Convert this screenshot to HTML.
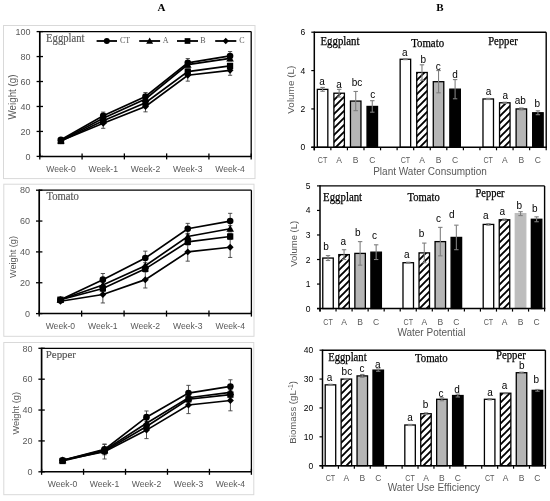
<!DOCTYPE html><html><head><meta charset="utf-8"><style>html,body{margin:0;padding:0;background:#fff;width:550px;height:501px;overflow:hidden}svg{display:block;will-change:transform;opacity:0.999}</style></head><body><svg width="550" height="501" viewBox="0 0 550 501">
<defs><pattern id="hatch" patternUnits="userSpaceOnUse" width="7" height="7"><rect width="7" height="7" fill="#fff"/><path d="M-1.75,1.75 L1.75,-1.75 M0,7 L7,0 M5.25,8.75 L8.75,5.25" stroke="#000" stroke-width="1.9"/></pattern></defs>
<rect width="550" height="501" fill="#fff"/>
<text x="161.50" y="10.80" font-family="'Liberation Serif', serif" font-size="11" fill="#000" text-anchor="middle" font-weight="bold" >A</text>
<text x="440.00" y="10.90" font-family="'Liberation Serif', serif" font-size="11" fill="#000" text-anchor="middle" font-weight="bold" >B</text>
<rect x="3.5" y="25.5" width="251.5" height="153.1" fill="#fff" stroke="#d9d9d9" stroke-width="1"/>
<line x1="39.80" y1="31.60" x2="251.20" y2="31.60" stroke="#000" stroke-width="1.3" />
<line x1="251.20" y1="31.60" x2="251.20" y2="156.40" stroke="#000" stroke-width="1.3" />
<line x1="36.60" y1="156.40" x2="43.00" y2="156.40" stroke="#000" stroke-width="1.3" />
<text x="30.60" y="159.60" font-family="'Liberation Sans', sans-serif" font-size="9" fill="#595959" text-anchor="end" font-weight="normal" >0</text>
<line x1="36.60" y1="131.44" x2="43.00" y2="131.44" stroke="#000" stroke-width="1.3" />
<text x="30.60" y="134.64" font-family="'Liberation Sans', sans-serif" font-size="9" fill="#595959" text-anchor="end" font-weight="normal" >20</text>
<line x1="36.60" y1="106.48" x2="43.00" y2="106.48" stroke="#000" stroke-width="1.3" />
<text x="30.60" y="109.68" font-family="'Liberation Sans', sans-serif" font-size="9" fill="#595959" text-anchor="end" font-weight="normal" >40</text>
<line x1="36.60" y1="81.52" x2="43.00" y2="81.52" stroke="#000" stroke-width="1.3" />
<text x="30.60" y="84.72" font-family="'Liberation Sans', sans-serif" font-size="9" fill="#595959" text-anchor="end" font-weight="normal" >60</text>
<line x1="36.60" y1="56.56" x2="43.00" y2="56.56" stroke="#000" stroke-width="1.3" />
<text x="30.60" y="59.76" font-family="'Liberation Sans', sans-serif" font-size="9" fill="#595959" text-anchor="end" font-weight="normal" >80</text>
<line x1="36.60" y1="31.60" x2="43.00" y2="31.60" stroke="#000" stroke-width="1.3" />
<text x="30.60" y="34.80" font-family="'Liberation Sans', sans-serif" font-size="9" fill="#595959" text-anchor="end" font-weight="normal" >100</text>
<line x1="39.80" y1="153.40" x2="39.80" y2="159.40" stroke="#000" stroke-width="1.3" />
<line x1="82.08" y1="153.40" x2="82.08" y2="159.40" stroke="#000" stroke-width="1.3" />
<line x1="124.36" y1="153.40" x2="124.36" y2="159.40" stroke="#000" stroke-width="1.3" />
<line x1="166.64" y1="153.40" x2="166.64" y2="159.40" stroke="#000" stroke-width="1.3" />
<line x1="208.92" y1="153.40" x2="208.92" y2="159.40" stroke="#000" stroke-width="1.3" />
<line x1="251.20" y1="153.40" x2="251.20" y2="159.40" stroke="#000" stroke-width="1.3" />
<text x="60.94" y="171.80" font-family="'Liberation Sans', sans-serif" font-size="9.6" fill="#595959" text-anchor="middle" font-weight="normal" textLength="29.5" lengthAdjust="spacingAndGlyphs" >Week-0</text>
<text x="103.22" y="171.80" font-family="'Liberation Sans', sans-serif" font-size="9.6" fill="#595959" text-anchor="middle" font-weight="normal" textLength="29.5" lengthAdjust="spacingAndGlyphs" >Week-1</text>
<text x="145.50" y="171.80" font-family="'Liberation Sans', sans-serif" font-size="9.6" fill="#595959" text-anchor="middle" font-weight="normal" textLength="29.5" lengthAdjust="spacingAndGlyphs" >Week-2</text>
<text x="187.78" y="171.80" font-family="'Liberation Sans', sans-serif" font-size="9.6" fill="#595959" text-anchor="middle" font-weight="normal" textLength="29.5" lengthAdjust="spacingAndGlyphs" >Week-3</text>
<text x="230.06" y="171.80" font-family="'Liberation Sans', sans-serif" font-size="9.6" fill="#595959" text-anchor="middle" font-weight="normal" textLength="29.5" lengthAdjust="spacingAndGlyphs" >Week-4</text>
<line x1="39.80" y1="31.00" x2="39.80" y2="157.00" stroke="#000" stroke-width="1.7" />
<line x1="39.20" y1="156.40" x2="251.80" y2="156.40" stroke="#000" stroke-width="1.5" />
<text x="0.00" y="0.00" font-family="'Liberation Sans', sans-serif" font-size="10" fill="#595959" text-anchor="middle" font-weight="normal" textLength="45" lengthAdjust="spacingAndGlyphs" transform="translate(16.2,97) rotate(-90)">Weight (g)</text>
<text x="46.10" y="41.50" font-family="'Liberation Serif', serif" font-size="11.5" fill="#595959" text-anchor="start" font-weight="normal" textLength="38.4" lengthAdjust="spacingAndGlyphs" stroke="#595959" stroke-width="0.2">Eggplant</text>
<line x1="60.94" y1="137.93" x2="60.94" y2="141.67" stroke="#404040" stroke-width="0.9" />
<line x1="58.84" y1="137.93" x2="63.04" y2="137.93" stroke="#404040" stroke-width="0.9" />
<line x1="58.84" y1="141.67" x2="63.04" y2="141.67" stroke="#404040" stroke-width="0.9" />
<line x1="103.22" y1="112.10" x2="103.22" y2="119.58" stroke="#404040" stroke-width="0.9" />
<line x1="101.12" y1="112.10" x2="105.32" y2="112.10" stroke="#404040" stroke-width="0.9" />
<line x1="101.12" y1="119.58" x2="105.32" y2="119.58" stroke="#404040" stroke-width="0.9" />
<line x1="145.50" y1="92.50" x2="145.50" y2="100.49" stroke="#404040" stroke-width="0.9" />
<line x1="143.40" y1="92.50" x2="147.60" y2="92.50" stroke="#404040" stroke-width="0.9" />
<line x1="143.40" y1="100.49" x2="147.60" y2="100.49" stroke="#404040" stroke-width="0.9" />
<line x1="187.78" y1="58.56" x2="187.78" y2="67.04" stroke="#404040" stroke-width="0.9" />
<line x1="185.68" y1="58.56" x2="189.88" y2="58.56" stroke="#404040" stroke-width="0.9" />
<line x1="185.68" y1="67.04" x2="189.88" y2="67.04" stroke="#404040" stroke-width="0.9" />
<line x1="230.06" y1="51.57" x2="230.06" y2="60.30" stroke="#404040" stroke-width="0.9" />
<line x1="227.96" y1="51.57" x2="232.16" y2="51.57" stroke="#404040" stroke-width="0.9" />
<line x1="227.96" y1="60.30" x2="232.16" y2="60.30" stroke="#404040" stroke-width="0.9" />
<line x1="60.94" y1="139.18" x2="60.94" y2="141.67" stroke="#404040" stroke-width="0.9" />
<line x1="58.84" y1="139.18" x2="63.04" y2="139.18" stroke="#404040" stroke-width="0.9" />
<line x1="58.84" y1="141.67" x2="63.04" y2="141.67" stroke="#404040" stroke-width="0.9" />
<line x1="103.22" y1="115.84" x2="103.22" y2="120.83" stroke="#404040" stroke-width="0.9" />
<line x1="101.12" y1="115.84" x2="105.32" y2="115.84" stroke="#404040" stroke-width="0.9" />
<line x1="101.12" y1="120.83" x2="105.32" y2="120.83" stroke="#404040" stroke-width="0.9" />
<line x1="145.50" y1="96.50" x2="145.50" y2="101.49" stroke="#404040" stroke-width="0.9" />
<line x1="143.40" y1="96.50" x2="147.60" y2="96.50" stroke="#404040" stroke-width="0.9" />
<line x1="143.40" y1="101.49" x2="147.60" y2="101.49" stroke="#404040" stroke-width="0.9" />
<line x1="187.78" y1="62.18" x2="187.78" y2="67.17" stroke="#404040" stroke-width="0.9" />
<line x1="185.68" y1="62.18" x2="189.88" y2="62.18" stroke="#404040" stroke-width="0.9" />
<line x1="185.68" y1="67.17" x2="189.88" y2="67.17" stroke="#404040" stroke-width="0.9" />
<line x1="230.06" y1="55.94" x2="230.06" y2="60.93" stroke="#404040" stroke-width="0.9" />
<line x1="227.96" y1="55.94" x2="232.16" y2="55.94" stroke="#404040" stroke-width="0.9" />
<line x1="227.96" y1="60.93" x2="232.16" y2="60.93" stroke="#404040" stroke-width="0.9" />
<line x1="60.94" y1="139.80" x2="60.94" y2="142.30" stroke="#404040" stroke-width="0.9" />
<line x1="58.84" y1="139.80" x2="63.04" y2="139.80" stroke="#404040" stroke-width="0.9" />
<line x1="58.84" y1="142.30" x2="63.04" y2="142.30" stroke="#404040" stroke-width="0.9" />
<line x1="103.22" y1="118.34" x2="103.22" y2="123.33" stroke="#404040" stroke-width="0.9" />
<line x1="101.12" y1="118.34" x2="105.32" y2="118.34" stroke="#404040" stroke-width="0.9" />
<line x1="101.12" y1="123.33" x2="105.32" y2="123.33" stroke="#404040" stroke-width="0.9" />
<line x1="145.50" y1="100.24" x2="145.50" y2="105.23" stroke="#404040" stroke-width="0.9" />
<line x1="143.40" y1="100.24" x2="147.60" y2="100.24" stroke="#404040" stroke-width="0.9" />
<line x1="143.40" y1="105.23" x2="147.60" y2="105.23" stroke="#404040" stroke-width="0.9" />
<line x1="187.78" y1="69.04" x2="187.78" y2="74.03" stroke="#404040" stroke-width="0.9" />
<line x1="185.68" y1="69.04" x2="189.88" y2="69.04" stroke="#404040" stroke-width="0.9" />
<line x1="185.68" y1="74.03" x2="189.88" y2="74.03" stroke="#404040" stroke-width="0.9" />
<line x1="230.06" y1="63.42" x2="230.06" y2="68.42" stroke="#404040" stroke-width="0.9" />
<line x1="227.96" y1="63.42" x2="232.16" y2="63.42" stroke="#404040" stroke-width="0.9" />
<line x1="227.96" y1="68.42" x2="232.16" y2="68.42" stroke="#404040" stroke-width="0.9" />
<line x1="60.94" y1="138.80" x2="60.94" y2="142.55" stroke="#404040" stroke-width="0.9" />
<line x1="58.84" y1="138.80" x2="63.04" y2="138.80" stroke="#404040" stroke-width="0.9" />
<line x1="58.84" y1="142.55" x2="63.04" y2="142.55" stroke="#404040" stroke-width="0.9" />
<line x1="103.22" y1="118.34" x2="103.22" y2="128.32" stroke="#404040" stroke-width="0.9" />
<line x1="101.12" y1="118.34" x2="105.32" y2="118.34" stroke="#404040" stroke-width="0.9" />
<line x1="101.12" y1="128.32" x2="105.32" y2="128.32" stroke="#404040" stroke-width="0.9" />
<line x1="145.50" y1="101.11" x2="145.50" y2="111.85" stroke="#404040" stroke-width="0.9" />
<line x1="143.40" y1="101.11" x2="147.60" y2="101.11" stroke="#404040" stroke-width="0.9" />
<line x1="143.40" y1="111.85" x2="147.60" y2="111.85" stroke="#404040" stroke-width="0.9" />
<line x1="187.78" y1="69.41" x2="187.78" y2="81.15" stroke="#404040" stroke-width="0.9" />
<line x1="185.68" y1="69.41" x2="189.88" y2="69.41" stroke="#404040" stroke-width="0.9" />
<line x1="185.68" y1="81.15" x2="189.88" y2="81.15" stroke="#404040" stroke-width="0.9" />
<line x1="230.06" y1="65.30" x2="230.06" y2="75.28" stroke="#404040" stroke-width="0.9" />
<line x1="227.96" y1="65.30" x2="232.16" y2="65.30" stroke="#404040" stroke-width="0.9" />
<line x1="227.96" y1="75.28" x2="232.16" y2="75.28" stroke="#404040" stroke-width="0.9" />
<polyline points="60.94,139.80 103.22,115.84 145.50,96.50 187.78,62.80 230.06,55.94" fill="none" stroke="#000" stroke-width="1.7"/>
<polyline points="60.94,140.43 103.22,118.34 145.50,98.99 187.78,64.67 230.06,58.43" fill="none" stroke="#000" stroke-width="1.7"/>
<polyline points="60.94,141.05 103.22,120.83 145.50,102.74 187.78,71.54 230.06,65.92" fill="none" stroke="#000" stroke-width="1.7"/>
<polyline points="60.94,140.68 103.22,123.33 145.50,106.48 187.78,75.28 230.06,70.29" fill="none" stroke="#000" stroke-width="1.7"/>
<circle cx="60.94" cy="139.80" r="3.30" fill="#000"/>
<circle cx="103.22" cy="115.84" r="3.30" fill="#000"/>
<circle cx="145.50" cy="96.50" r="3.30" fill="#000"/>
<circle cx="187.78" cy="62.80" r="3.30" fill="#000"/>
<circle cx="230.06" cy="55.94" r="3.30" fill="#000"/>
<polygon points="60.94,136.63 64.73,143.46 57.14,143.46" fill="#000"/>
<polygon points="103.22,114.54 107.01,121.37 99.42,121.37" fill="#000"/>
<polygon points="145.50,95.20 149.29,102.03 141.71,102.03" fill="#000"/>
<polygon points="187.78,60.88 191.57,67.71 183.98,67.71" fill="#000"/>
<polygon points="230.06,54.64 233.85,61.47 226.26,61.47" fill="#000"/>
<rect x="57.80" y="137.91" width="6.27" height="6.27" fill="#000"/>
<rect x="100.08" y="117.70" width="6.27" height="6.27" fill="#000"/>
<rect x="142.37" y="99.60" width="6.27" height="6.27" fill="#000"/>
<rect x="184.64" y="68.40" width="6.27" height="6.27" fill="#000"/>
<rect x="226.92" y="62.78" width="6.27" height="6.27" fill="#000"/>
<polygon points="60.94,137.21 64.41,140.68 60.94,144.14 57.47,140.68" fill="#000"/>
<polygon points="103.22,119.86 106.68,123.33 103.22,126.79 99.75,123.33" fill="#000"/>
<polygon points="145.50,103.01 148.97,106.48 145.50,109.94 142.03,106.48" fill="#000"/>
<polygon points="187.78,71.81 191.24,75.28 187.78,78.74 184.31,75.28" fill="#000"/>
<polygon points="230.06,66.82 233.52,70.29 230.06,73.75 226.59,70.29" fill="#000"/>
<line x1="96.60" y1="41.00" x2="117.00" y2="41.00" stroke="#000" stroke-width="1.8" />
<circle cx="106.80" cy="41.00" r="3.00" fill="#000"/>
<text x="120.00" y="43.30" font-family="'Liberation Serif', serif" font-size="8" fill="#595959" text-anchor="start" font-weight="normal" >CT</text>
<line x1="139.20" y1="41.00" x2="160.10" y2="41.00" stroke="#000" stroke-width="1.8" />
<polygon points="149.65,37.55 153.10,43.76 146.20,43.76" fill="#000"/>
<text x="162.70" y="43.30" font-family="'Liberation Serif', serif" font-size="8" fill="#595959" text-anchor="start" font-weight="normal" >A</text>
<line x1="177.00" y1="41.00" x2="198.00" y2="41.00" stroke="#000" stroke-width="1.8" />
<rect x="184.65" y="38.15" width="5.70" height="5.70" fill="#000"/>
<text x="200.30" y="43.30" font-family="'Liberation Serif', serif" font-size="8" fill="#595959" text-anchor="start" font-weight="normal" >B</text>
<line x1="215.20" y1="41.00" x2="236.30" y2="41.00" stroke="#000" stroke-width="1.8" />
<polygon points="225.75,37.85 228.90,41.00 225.75,44.15 222.60,41.00" fill="#000"/>
<text x="239.20" y="43.30" font-family="'Liberation Serif', serif" font-size="8" fill="#595959" text-anchor="start" font-weight="normal" >C</text>
<rect x="3.8" y="184.2" width="250.2" height="152.10000000000002" fill="#fff" stroke="#d9d9d9" stroke-width="1"/>
<line x1="39.20" y1="190.20" x2="251.40" y2="190.20" stroke="#000" stroke-width="1.3" />
<line x1="251.40" y1="190.20" x2="251.40" y2="313.60" stroke="#000" stroke-width="1.3" />
<line x1="36.00" y1="313.60" x2="42.40" y2="313.60" stroke="#000" stroke-width="1.3" />
<text x="30.00" y="316.80" font-family="'Liberation Sans', sans-serif" font-size="9" fill="#595959" text-anchor="end" font-weight="normal" >0</text>
<line x1="36.00" y1="282.75" x2="42.40" y2="282.75" stroke="#000" stroke-width="1.3" />
<text x="30.00" y="285.95" font-family="'Liberation Sans', sans-serif" font-size="9" fill="#595959" text-anchor="end" font-weight="normal" >20</text>
<line x1="36.00" y1="251.90" x2="42.40" y2="251.90" stroke="#000" stroke-width="1.3" />
<text x="30.00" y="255.10" font-family="'Liberation Sans', sans-serif" font-size="9" fill="#595959" text-anchor="end" font-weight="normal" >40</text>
<line x1="36.00" y1="221.05" x2="42.40" y2="221.05" stroke="#000" stroke-width="1.3" />
<text x="30.00" y="224.25" font-family="'Liberation Sans', sans-serif" font-size="9" fill="#595959" text-anchor="end" font-weight="normal" >60</text>
<line x1="36.00" y1="190.20" x2="42.40" y2="190.20" stroke="#000" stroke-width="1.3" />
<text x="30.00" y="193.40" font-family="'Liberation Sans', sans-serif" font-size="9" fill="#595959" text-anchor="end" font-weight="normal" >80</text>
<line x1="39.20" y1="310.60" x2="39.20" y2="316.60" stroke="#000" stroke-width="1.3" />
<line x1="81.64" y1="310.60" x2="81.64" y2="316.60" stroke="#000" stroke-width="1.3" />
<line x1="124.08" y1="310.60" x2="124.08" y2="316.60" stroke="#000" stroke-width="1.3" />
<line x1="166.52" y1="310.60" x2="166.52" y2="316.60" stroke="#000" stroke-width="1.3" />
<line x1="208.96" y1="310.60" x2="208.96" y2="316.60" stroke="#000" stroke-width="1.3" />
<line x1="251.40" y1="310.60" x2="251.40" y2="316.60" stroke="#000" stroke-width="1.3" />
<text x="60.42" y="329.00" font-family="'Liberation Sans', sans-serif" font-size="9.6" fill="#595959" text-anchor="middle" font-weight="normal" textLength="29.5" lengthAdjust="spacingAndGlyphs" >Week-0</text>
<text x="102.86" y="329.00" font-family="'Liberation Sans', sans-serif" font-size="9.6" fill="#595959" text-anchor="middle" font-weight="normal" textLength="29.5" lengthAdjust="spacingAndGlyphs" >Week-1</text>
<text x="145.30" y="329.00" font-family="'Liberation Sans', sans-serif" font-size="9.6" fill="#595959" text-anchor="middle" font-weight="normal" textLength="29.5" lengthAdjust="spacingAndGlyphs" >Week-2</text>
<text x="187.74" y="329.00" font-family="'Liberation Sans', sans-serif" font-size="9.6" fill="#595959" text-anchor="middle" font-weight="normal" textLength="29.5" lengthAdjust="spacingAndGlyphs" >Week-3</text>
<text x="230.18" y="329.00" font-family="'Liberation Sans', sans-serif" font-size="9.6" fill="#595959" text-anchor="middle" font-weight="normal" textLength="29.5" lengthAdjust="spacingAndGlyphs" >Week-4</text>
<line x1="39.20" y1="189.60" x2="39.20" y2="314.20" stroke="#000" stroke-width="1.7" />
<line x1="38.60" y1="313.60" x2="252.00" y2="313.60" stroke="#000" stroke-width="1.5" />
<text x="0.00" y="0.00" font-family="'Liberation Sans', sans-serif" font-size="9.4" fill="#595959" text-anchor="middle" font-weight="normal" textLength="42" lengthAdjust="spacingAndGlyphs" transform="translate(15.6,257) rotate(-90)">Weight (g)</text>
<text x="46.50" y="200.20" font-family="'Liberation Serif', serif" font-size="11.6" fill="#595959" text-anchor="start" font-weight="normal" textLength="32.4" lengthAdjust="spacingAndGlyphs" stroke="#595959" stroke-width="0.2">Tomato</text>
<line x1="60.42" y1="298.18" x2="60.42" y2="301.26" stroke="#404040" stroke-width="0.9" />
<line x1="58.32" y1="298.18" x2="62.52" y2="298.18" stroke="#404040" stroke-width="0.9" />
<line x1="58.32" y1="301.26" x2="62.52" y2="301.26" stroke="#404040" stroke-width="0.9" />
<line x1="102.86" y1="273.50" x2="102.86" y2="285.84" stroke="#404040" stroke-width="0.9" />
<line x1="100.76" y1="273.50" x2="104.96" y2="273.50" stroke="#404040" stroke-width="0.9" />
<line x1="100.76" y1="285.84" x2="104.96" y2="285.84" stroke="#404040" stroke-width="0.9" />
<line x1="145.30" y1="251.13" x2="145.30" y2="265.01" stroke="#404040" stroke-width="0.9" />
<line x1="143.20" y1="251.13" x2="147.40" y2="251.13" stroke="#404040" stroke-width="0.9" />
<line x1="143.20" y1="265.01" x2="147.40" y2="265.01" stroke="#404040" stroke-width="0.9" />
<line x1="187.74" y1="223.36" x2="187.74" y2="234.16" stroke="#404040" stroke-width="0.9" />
<line x1="185.64" y1="223.36" x2="189.84" y2="223.36" stroke="#404040" stroke-width="0.9" />
<line x1="185.64" y1="234.16" x2="189.84" y2="234.16" stroke="#404040" stroke-width="0.9" />
<line x1="230.18" y1="213.34" x2="230.18" y2="228.76" stroke="#404040" stroke-width="0.9" />
<line x1="228.08" y1="213.34" x2="232.28" y2="213.34" stroke="#404040" stroke-width="0.9" />
<line x1="228.08" y1="228.76" x2="232.28" y2="228.76" stroke="#404040" stroke-width="0.9" />
<line x1="60.42" y1="298.18" x2="60.42" y2="301.26" stroke="#404040" stroke-width="0.9" />
<line x1="58.32" y1="298.18" x2="62.52" y2="298.18" stroke="#404040" stroke-width="0.9" />
<line x1="58.32" y1="301.26" x2="62.52" y2="301.26" stroke="#404040" stroke-width="0.9" />
<line x1="102.86" y1="281.98" x2="102.86" y2="288.15" stroke="#404040" stroke-width="0.9" />
<line x1="100.76" y1="281.98" x2="104.96" y2="281.98" stroke="#404040" stroke-width="0.9" />
<line x1="100.76" y1="288.15" x2="104.96" y2="288.15" stroke="#404040" stroke-width="0.9" />
<line x1="145.30" y1="262.70" x2="145.30" y2="268.87" stroke="#404040" stroke-width="0.9" />
<line x1="143.20" y1="262.70" x2="147.40" y2="262.70" stroke="#404040" stroke-width="0.9" />
<line x1="143.20" y1="268.87" x2="147.40" y2="268.87" stroke="#404040" stroke-width="0.9" />
<line x1="187.74" y1="233.39" x2="187.74" y2="239.56" stroke="#404040" stroke-width="0.9" />
<line x1="185.64" y1="233.39" x2="189.84" y2="233.39" stroke="#404040" stroke-width="0.9" />
<line x1="185.64" y1="239.56" x2="189.84" y2="239.56" stroke="#404040" stroke-width="0.9" />
<line x1="230.18" y1="225.68" x2="230.18" y2="231.85" stroke="#404040" stroke-width="0.9" />
<line x1="228.08" y1="225.68" x2="232.28" y2="225.68" stroke="#404040" stroke-width="0.9" />
<line x1="228.08" y1="231.85" x2="232.28" y2="231.85" stroke="#404040" stroke-width="0.9" />
<line x1="60.42" y1="298.18" x2="60.42" y2="301.26" stroke="#404040" stroke-width="0.9" />
<line x1="58.32" y1="298.18" x2="62.52" y2="298.18" stroke="#404040" stroke-width="0.9" />
<line x1="58.32" y1="301.26" x2="62.52" y2="301.26" stroke="#404040" stroke-width="0.9" />
<line x1="102.86" y1="285.37" x2="102.86" y2="291.54" stroke="#404040" stroke-width="0.9" />
<line x1="100.76" y1="285.37" x2="104.96" y2="285.37" stroke="#404040" stroke-width="0.9" />
<line x1="100.76" y1="291.54" x2="104.96" y2="291.54" stroke="#404040" stroke-width="0.9" />
<line x1="145.30" y1="265.78" x2="145.30" y2="271.95" stroke="#404040" stroke-width="0.9" />
<line x1="143.20" y1="265.78" x2="147.40" y2="265.78" stroke="#404040" stroke-width="0.9" />
<line x1="143.20" y1="271.95" x2="147.40" y2="271.95" stroke="#404040" stroke-width="0.9" />
<line x1="187.74" y1="238.79" x2="187.74" y2="244.96" stroke="#404040" stroke-width="0.9" />
<line x1="185.64" y1="238.79" x2="189.84" y2="238.79" stroke="#404040" stroke-width="0.9" />
<line x1="185.64" y1="244.96" x2="189.84" y2="244.96" stroke="#404040" stroke-width="0.9" />
<line x1="230.18" y1="233.39" x2="230.18" y2="239.56" stroke="#404040" stroke-width="0.9" />
<line x1="228.08" y1="233.39" x2="232.28" y2="233.39" stroke="#404040" stroke-width="0.9" />
<line x1="228.08" y1="239.56" x2="232.28" y2="239.56" stroke="#404040" stroke-width="0.9" />
<line x1="60.42" y1="299.72" x2="60.42" y2="302.80" stroke="#404040" stroke-width="0.9" />
<line x1="58.32" y1="299.72" x2="62.52" y2="299.72" stroke="#404040" stroke-width="0.9" />
<line x1="58.32" y1="302.80" x2="62.52" y2="302.80" stroke="#404040" stroke-width="0.9" />
<line x1="102.86" y1="285.99" x2="102.86" y2="302.96" stroke="#404040" stroke-width="0.9" />
<line x1="100.76" y1="285.99" x2="104.96" y2="285.99" stroke="#404040" stroke-width="0.9" />
<line x1="100.76" y1="302.96" x2="104.96" y2="302.96" stroke="#404040" stroke-width="0.9" />
<line x1="145.30" y1="271.34" x2="145.30" y2="287.99" stroke="#404040" stroke-width="0.9" />
<line x1="143.20" y1="271.34" x2="147.40" y2="271.34" stroke="#404040" stroke-width="0.9" />
<line x1="143.20" y1="287.99" x2="147.40" y2="287.99" stroke="#404040" stroke-width="0.9" />
<line x1="187.74" y1="242.65" x2="187.74" y2="261.16" stroke="#404040" stroke-width="0.9" />
<line x1="185.64" y1="242.65" x2="189.84" y2="242.65" stroke="#404040" stroke-width="0.9" />
<line x1="185.64" y1="261.16" x2="189.84" y2="261.16" stroke="#404040" stroke-width="0.9" />
<line x1="230.18" y1="237.09" x2="230.18" y2="257.45" stroke="#404040" stroke-width="0.9" />
<line x1="228.08" y1="237.09" x2="232.28" y2="237.09" stroke="#404040" stroke-width="0.9" />
<line x1="228.08" y1="257.45" x2="232.28" y2="257.45" stroke="#404040" stroke-width="0.9" />
<polyline points="60.42,299.72 102.86,279.67 145.30,258.07 187.74,228.76 230.18,221.05" fill="none" stroke="#000" stroke-width="1.7"/>
<polyline points="60.42,299.72 102.86,285.06 145.30,265.78 187.74,236.47 230.18,228.76" fill="none" stroke="#000" stroke-width="1.7"/>
<polyline points="60.42,299.72 102.86,288.46 145.30,268.87 187.74,241.87 230.18,236.47" fill="none" stroke="#000" stroke-width="1.7"/>
<polyline points="60.42,301.26 102.86,294.47 145.30,279.67 187.74,251.90 230.18,247.27" fill="none" stroke="#000" stroke-width="1.7"/>
<circle cx="60.42" cy="299.72" r="3.30" fill="#000"/>
<circle cx="102.86" cy="279.67" r="3.30" fill="#000"/>
<circle cx="145.30" cy="258.07" r="3.30" fill="#000"/>
<circle cx="187.74" cy="228.76" r="3.30" fill="#000"/>
<circle cx="230.18" cy="221.05" r="3.30" fill="#000"/>
<polygon points="60.42,295.92 64.22,302.75 56.62,302.75" fill="#000"/>
<polygon points="102.86,281.27 106.66,288.10 99.06,288.10" fill="#000"/>
<polygon points="145.30,261.99 149.09,268.82 141.51,268.82" fill="#000"/>
<polygon points="187.74,232.68 191.53,239.51 183.95,239.51" fill="#000"/>
<polygon points="230.18,224.97 233.97,231.80 226.39,231.80" fill="#000"/>
<rect x="57.29" y="296.58" width="6.27" height="6.27" fill="#000"/>
<rect x="99.72" y="285.32" width="6.27" height="6.27" fill="#000"/>
<rect x="142.17" y="265.73" width="6.27" height="6.27" fill="#000"/>
<rect x="184.61" y="238.74" width="6.27" height="6.27" fill="#000"/>
<rect x="227.05" y="233.34" width="6.27" height="6.27" fill="#000"/>
<polygon points="60.42,297.80 63.89,301.26 60.42,304.72 56.95,301.26" fill="#000"/>
<polygon points="102.86,291.01 106.33,294.47 102.86,297.94 99.39,294.47" fill="#000"/>
<polygon points="145.30,276.20 148.77,279.67 145.30,283.13 141.84,279.67" fill="#000"/>
<polygon points="187.74,248.44 191.21,251.90 187.74,255.37 184.28,251.90" fill="#000"/>
<polygon points="230.18,243.81 233.65,247.27 230.18,250.74 226.72,247.27" fill="#000"/>
<rect x="3.8" y="342.5" width="250.0" height="152.2" fill="#fff" stroke="#d9d9d9" stroke-width="1"/>
<line x1="41.60" y1="348.30" x2="251.40" y2="348.30" stroke="#000" stroke-width="1.3" />
<line x1="251.40" y1="348.30" x2="251.40" y2="471.80" stroke="#000" stroke-width="1.3" />
<line x1="38.40" y1="471.80" x2="44.80" y2="471.80" stroke="#000" stroke-width="1.3" />
<text x="32.40" y="475.00" font-family="'Liberation Sans', sans-serif" font-size="9" fill="#595959" text-anchor="end" font-weight="normal" >0</text>
<line x1="38.40" y1="440.93" x2="44.80" y2="440.93" stroke="#000" stroke-width="1.3" />
<text x="32.40" y="444.12" font-family="'Liberation Sans', sans-serif" font-size="9" fill="#595959" text-anchor="end" font-weight="normal" >20</text>
<line x1="38.40" y1="410.05" x2="44.80" y2="410.05" stroke="#000" stroke-width="1.3" />
<text x="32.40" y="413.25" font-family="'Liberation Sans', sans-serif" font-size="9" fill="#595959" text-anchor="end" font-weight="normal" >40</text>
<line x1="38.40" y1="379.18" x2="44.80" y2="379.18" stroke="#000" stroke-width="1.3" />
<text x="32.40" y="382.38" font-family="'Liberation Sans', sans-serif" font-size="9" fill="#595959" text-anchor="end" font-weight="normal" >60</text>
<line x1="38.40" y1="348.30" x2="44.80" y2="348.30" stroke="#000" stroke-width="1.3" />
<text x="32.40" y="351.50" font-family="'Liberation Sans', sans-serif" font-size="9" fill="#595959" text-anchor="end" font-weight="normal" >80</text>
<line x1="41.60" y1="468.80" x2="41.60" y2="474.80" stroke="#000" stroke-width="1.3" />
<line x1="83.56" y1="468.80" x2="83.56" y2="474.80" stroke="#000" stroke-width="1.3" />
<line x1="125.52" y1="468.80" x2="125.52" y2="474.80" stroke="#000" stroke-width="1.3" />
<line x1="167.48" y1="468.80" x2="167.48" y2="474.80" stroke="#000" stroke-width="1.3" />
<line x1="209.44" y1="468.80" x2="209.44" y2="474.80" stroke="#000" stroke-width="1.3" />
<line x1="251.40" y1="468.80" x2="251.40" y2="474.80" stroke="#000" stroke-width="1.3" />
<text x="62.58" y="487.20" font-family="'Liberation Sans', sans-serif" font-size="9.6" fill="#595959" text-anchor="middle" font-weight="normal" textLength="29.5" lengthAdjust="spacingAndGlyphs" >Week-0</text>
<text x="104.54" y="487.20" font-family="'Liberation Sans', sans-serif" font-size="9.6" fill="#595959" text-anchor="middle" font-weight="normal" textLength="29.5" lengthAdjust="spacingAndGlyphs" >Week-1</text>
<text x="146.50" y="487.20" font-family="'Liberation Sans', sans-serif" font-size="9.6" fill="#595959" text-anchor="middle" font-weight="normal" textLength="29.5" lengthAdjust="spacingAndGlyphs" >Week-2</text>
<text x="188.46" y="487.20" font-family="'Liberation Sans', sans-serif" font-size="9.6" fill="#595959" text-anchor="middle" font-weight="normal" textLength="29.5" lengthAdjust="spacingAndGlyphs" >Week-3</text>
<text x="230.42" y="487.20" font-family="'Liberation Sans', sans-serif" font-size="9.6" fill="#595959" text-anchor="middle" font-weight="normal" textLength="29.5" lengthAdjust="spacingAndGlyphs" >Week-4</text>
<line x1="41.60" y1="347.70" x2="41.60" y2="472.40" stroke="#000" stroke-width="1.7" />
<line x1="41.00" y1="471.80" x2="252.00" y2="471.80" stroke="#000" stroke-width="1.5" />
<text x="0.00" y="0.00" font-family="'Liberation Sans', sans-serif" font-size="9.4" fill="#595959" text-anchor="middle" font-weight="normal" textLength="42.6" lengthAdjust="spacingAndGlyphs" transform="translate(19,413.2) rotate(-90)">Weight (g)</text>
<text x="45.80" y="357.80" font-family="'Liberation Serif', serif" font-size="11.2" fill="#595959" text-anchor="start" font-weight="normal" textLength="30.2" lengthAdjust="spacingAndGlyphs" stroke="#595959" stroke-width="0.2">Pepper</text>
<line x1="62.58" y1="458.68" x2="62.58" y2="461.77" stroke="#404040" stroke-width="0.9" />
<line x1="60.48" y1="458.68" x2="64.68" y2="458.68" stroke="#404040" stroke-width="0.9" />
<line x1="60.48" y1="461.77" x2="64.68" y2="461.77" stroke="#404040" stroke-width="0.9" />
<line x1="104.54" y1="444.01" x2="104.54" y2="454.82" stroke="#404040" stroke-width="0.9" />
<line x1="102.44" y1="444.01" x2="106.64" y2="444.01" stroke="#404040" stroke-width="0.9" />
<line x1="102.44" y1="454.82" x2="106.64" y2="454.82" stroke="#404040" stroke-width="0.9" />
<line x1="146.50" y1="410.98" x2="146.50" y2="423.33" stroke="#404040" stroke-width="0.9" />
<line x1="144.40" y1="410.98" x2="148.60" y2="410.98" stroke="#404040" stroke-width="0.9" />
<line x1="144.40" y1="423.33" x2="148.60" y2="423.33" stroke="#404040" stroke-width="0.9" />
<line x1="188.46" y1="385.35" x2="188.46" y2="400.79" stroke="#404040" stroke-width="0.9" />
<line x1="186.36" y1="385.35" x2="190.56" y2="385.35" stroke="#404040" stroke-width="0.9" />
<line x1="186.36" y1="400.79" x2="190.56" y2="400.79" stroke="#404040" stroke-width="0.9" />
<line x1="230.42" y1="379.79" x2="230.42" y2="393.07" stroke="#404040" stroke-width="0.9" />
<line x1="228.32" y1="379.79" x2="232.52" y2="379.79" stroke="#404040" stroke-width="0.9" />
<line x1="228.32" y1="393.07" x2="232.52" y2="393.07" stroke="#404040" stroke-width="0.9" />
<line x1="62.58" y1="458.68" x2="62.58" y2="461.77" stroke="#404040" stroke-width="0.9" />
<line x1="60.48" y1="458.68" x2="64.68" y2="458.68" stroke="#404040" stroke-width="0.9" />
<line x1="60.48" y1="461.77" x2="64.68" y2="461.77" stroke="#404040" stroke-width="0.9" />
<line x1="104.54" y1="447.10" x2="104.54" y2="453.28" stroke="#404040" stroke-width="0.9" />
<line x1="102.44" y1="447.10" x2="106.64" y2="447.10" stroke="#404040" stroke-width="0.9" />
<line x1="102.44" y1="453.28" x2="106.64" y2="453.28" stroke="#404040" stroke-width="0.9" />
<line x1="146.50" y1="420.08" x2="146.50" y2="426.26" stroke="#404040" stroke-width="0.9" />
<line x1="144.40" y1="420.08" x2="148.60" y2="420.08" stroke="#404040" stroke-width="0.9" />
<line x1="144.40" y1="426.26" x2="148.60" y2="426.26" stroke="#404040" stroke-width="0.9" />
<line x1="188.46" y1="394.61" x2="188.46" y2="400.79" stroke="#404040" stroke-width="0.9" />
<line x1="186.36" y1="394.61" x2="190.56" y2="394.61" stroke="#404040" stroke-width="0.9" />
<line x1="186.36" y1="400.79" x2="190.56" y2="400.79" stroke="#404040" stroke-width="0.9" />
<line x1="230.42" y1="389.21" x2="230.42" y2="395.38" stroke="#404040" stroke-width="0.9" />
<line x1="228.32" y1="389.21" x2="232.52" y2="389.21" stroke="#404040" stroke-width="0.9" />
<line x1="228.32" y1="395.38" x2="232.52" y2="395.38" stroke="#404040" stroke-width="0.9" />
<line x1="62.58" y1="459.45" x2="62.58" y2="462.54" stroke="#404040" stroke-width="0.9" />
<line x1="60.48" y1="459.45" x2="64.68" y2="459.45" stroke="#404040" stroke-width="0.9" />
<line x1="60.48" y1="462.54" x2="64.68" y2="462.54" stroke="#404040" stroke-width="0.9" />
<line x1="104.54" y1="447.87" x2="104.54" y2="454.05" stroke="#404040" stroke-width="0.9" />
<line x1="102.44" y1="447.87" x2="106.64" y2="447.87" stroke="#404040" stroke-width="0.9" />
<line x1="102.44" y1="454.05" x2="106.64" y2="454.05" stroke="#404040" stroke-width="0.9" />
<line x1="146.50" y1="423.48" x2="146.50" y2="429.66" stroke="#404040" stroke-width="0.9" />
<line x1="144.40" y1="423.48" x2="148.60" y2="423.48" stroke="#404040" stroke-width="0.9" />
<line x1="144.40" y1="429.66" x2="148.60" y2="429.66" stroke="#404040" stroke-width="0.9" />
<line x1="188.46" y1="396.16" x2="188.46" y2="402.33" stroke="#404040" stroke-width="0.9" />
<line x1="186.36" y1="396.16" x2="190.56" y2="396.16" stroke="#404040" stroke-width="0.9" />
<line x1="186.36" y1="402.33" x2="190.56" y2="402.33" stroke="#404040" stroke-width="0.9" />
<line x1="230.42" y1="391.53" x2="230.42" y2="397.70" stroke="#404040" stroke-width="0.9" />
<line x1="228.32" y1="391.53" x2="232.52" y2="391.53" stroke="#404040" stroke-width="0.9" />
<line x1="228.32" y1="397.70" x2="232.52" y2="397.70" stroke="#404040" stroke-width="0.9" />
<line x1="62.58" y1="458.68" x2="62.58" y2="461.77" stroke="#404040" stroke-width="0.9" />
<line x1="60.48" y1="458.68" x2="64.68" y2="458.68" stroke="#404040" stroke-width="0.9" />
<line x1="60.48" y1="461.77" x2="64.68" y2="461.77" stroke="#404040" stroke-width="0.9" />
<line x1="104.54" y1="444.48" x2="104.54" y2="458.99" stroke="#404040" stroke-width="0.9" />
<line x1="102.44" y1="444.48" x2="106.64" y2="444.48" stroke="#404040" stroke-width="0.9" />
<line x1="102.44" y1="458.99" x2="106.64" y2="458.99" stroke="#404040" stroke-width="0.9" />
<line x1="146.50" y1="421.63" x2="146.50" y2="438.61" stroke="#404040" stroke-width="0.9" />
<line x1="144.40" y1="421.63" x2="148.60" y2="421.63" stroke="#404040" stroke-width="0.9" />
<line x1="144.40" y1="438.61" x2="148.60" y2="438.61" stroke="#404040" stroke-width="0.9" />
<line x1="188.46" y1="396.31" x2="188.46" y2="413.60" stroke="#404040" stroke-width="0.9" />
<line x1="186.36" y1="396.31" x2="190.56" y2="396.31" stroke="#404040" stroke-width="0.9" />
<line x1="186.36" y1="413.60" x2="190.56" y2="413.60" stroke="#404040" stroke-width="0.9" />
<line x1="230.42" y1="390.14" x2="230.42" y2="410.82" stroke="#404040" stroke-width="0.9" />
<line x1="228.32" y1="390.14" x2="232.52" y2="390.14" stroke="#404040" stroke-width="0.9" />
<line x1="228.32" y1="410.82" x2="232.52" y2="410.82" stroke="#404040" stroke-width="0.9" />
<polyline points="62.58,460.22 104.54,449.42 146.50,417.15 188.46,393.07 230.42,386.43" fill="none" stroke="#000" stroke-width="1.7"/>
<polyline points="62.58,460.22 104.54,450.19 146.50,423.17 188.46,397.70 230.42,392.30" fill="none" stroke="#000" stroke-width="1.7"/>
<polyline points="62.58,460.99 104.54,450.96 146.50,426.57 188.46,399.24 230.42,394.61" fill="none" stroke="#000" stroke-width="1.7"/>
<polyline points="62.58,460.22 104.54,451.73 146.50,430.12 188.46,404.96 230.42,400.48" fill="none" stroke="#000" stroke-width="1.7"/>
<circle cx="62.58" cy="460.22" r="3.30" fill="#000"/>
<circle cx="104.54" cy="449.42" r="3.30" fill="#000"/>
<circle cx="146.50" cy="417.15" r="3.30" fill="#000"/>
<circle cx="188.46" cy="393.07" r="3.30" fill="#000"/>
<circle cx="230.42" cy="386.43" r="3.30" fill="#000"/>
<polygon points="62.58,456.43 66.38,463.26 58.78,463.26" fill="#000"/>
<polygon points="104.54,446.39 108.33,453.22 100.74,453.22" fill="#000"/>
<polygon points="146.50,419.38 150.29,426.21 142.71,426.21" fill="#000"/>
<polygon points="188.46,393.91 192.25,400.74 184.67,400.74" fill="#000"/>
<polygon points="230.42,388.50 234.21,395.33 226.62,395.33" fill="#000"/>
<rect x="59.45" y="457.86" width="6.27" height="6.27" fill="#000"/>
<rect x="101.40" y="447.82" width="6.27" height="6.27" fill="#000"/>
<rect x="143.37" y="423.43" width="6.27" height="6.27" fill="#000"/>
<rect x="185.33" y="396.11" width="6.27" height="6.27" fill="#000"/>
<rect x="227.28" y="391.48" width="6.27" height="6.27" fill="#000"/>
<polygon points="62.58,456.76 66.05,460.22 62.58,463.69 59.11,460.22" fill="#000"/>
<polygon points="104.54,448.27 108.00,451.73 104.54,455.20 101.07,451.73" fill="#000"/>
<polygon points="146.50,426.65 149.97,430.12 146.50,433.58 143.03,430.12" fill="#000"/>
<polygon points="188.46,401.49 191.93,404.96 188.46,408.42 185.00,404.96" fill="#000"/>
<polygon points="230.42,397.01 233.88,400.48 230.42,403.94 226.95,400.48" fill="#000"/>
<line x1="314.30" y1="32.20" x2="546.20" y2="32.20" stroke="#000" stroke-width="1.4" />
<line x1="546.20" y1="32.20" x2="546.20" y2="147.30" stroke="#000" stroke-width="1.4" />
<line x1="311.30" y1="147.30" x2="314.30" y2="147.30" stroke="#000" stroke-width="1.2" />
<text x="305.20" y="150.30" font-family="'Liberation Sans', sans-serif" font-size="8.5" fill="#000" text-anchor="end" font-weight="normal" >0</text>
<line x1="311.30" y1="108.93" x2="314.30" y2="108.93" stroke="#000" stroke-width="1.2" />
<text x="305.20" y="111.93" font-family="'Liberation Sans', sans-serif" font-size="8.5" fill="#000" text-anchor="end" font-weight="normal" >2</text>
<line x1="311.30" y1="70.57" x2="314.30" y2="70.57" stroke="#000" stroke-width="1.2" />
<text x="305.20" y="73.57" font-family="'Liberation Sans', sans-serif" font-size="8.5" fill="#000" text-anchor="end" font-weight="normal" >4</text>
<line x1="311.30" y1="32.20" x2="314.30" y2="32.20" stroke="#000" stroke-width="1.2" />
<text x="305.20" y="35.20" font-family="'Liberation Sans', sans-serif" font-size="8.5" fill="#000" text-anchor="end" font-weight="normal" >6</text>
<line x1="314.30" y1="147.30" x2="314.30" y2="150.30" stroke="#000" stroke-width="1.2" />
<line x1="330.86" y1="147.30" x2="330.86" y2="150.30" stroke="#000" stroke-width="1.2" />
<line x1="347.43" y1="147.30" x2="347.43" y2="150.30" stroke="#000" stroke-width="1.2" />
<line x1="363.99" y1="147.30" x2="363.99" y2="150.30" stroke="#000" stroke-width="1.2" />
<line x1="380.56" y1="147.30" x2="380.56" y2="150.30" stroke="#000" stroke-width="1.2" />
<line x1="397.12" y1="147.30" x2="397.12" y2="150.30" stroke="#000" stroke-width="1.2" />
<line x1="413.69" y1="147.30" x2="413.69" y2="150.30" stroke="#000" stroke-width="1.2" />
<line x1="430.25" y1="147.30" x2="430.25" y2="150.30" stroke="#000" stroke-width="1.2" />
<line x1="446.81" y1="147.30" x2="446.81" y2="150.30" stroke="#000" stroke-width="1.2" />
<line x1="463.38" y1="147.30" x2="463.38" y2="150.30" stroke="#000" stroke-width="1.2" />
<line x1="479.94" y1="147.30" x2="479.94" y2="150.30" stroke="#000" stroke-width="1.2" />
<line x1="496.51" y1="147.30" x2="496.51" y2="150.30" stroke="#000" stroke-width="1.2" />
<line x1="513.07" y1="147.30" x2="513.07" y2="150.30" stroke="#000" stroke-width="1.2" />
<line x1="529.64" y1="147.30" x2="529.64" y2="150.30" stroke="#000" stroke-width="1.2" />
<line x1="546.20" y1="147.30" x2="546.20" y2="150.30" stroke="#000" stroke-width="1.2" />
<rect x="317.33" y="89.37" width="10.50" height="57.93" fill="#fff" stroke="#000" stroke-width="1.3"/>
<line x1="322.58" y1="87.45" x2="322.58" y2="91.28" stroke="#7f7f7f" stroke-width="1.1" />
<line x1="320.38" y1="87.45" x2="324.78" y2="87.45" stroke="#7f7f7f" stroke-width="1.1" />
<line x1="320.38" y1="91.28" x2="324.78" y2="91.28" stroke="#7f7f7f" stroke-width="1.1" />
<text x="322.10" y="85.10" font-family="'Liberation Sans', sans-serif" font-size="10" fill="#000" text-anchor="middle" font-weight="normal" >a</text>
<text x="322.58" y="162.60" font-family="'Liberation Sans', sans-serif" font-size="8.5" fill="#595959" text-anchor="middle" font-weight="normal" textLength="9.5" lengthAdjust="spacingAndGlyphs" >CT</text>
<rect x="333.90" y="93.20" width="10.50" height="54.10" fill="url(#hatch)" stroke="#000" stroke-width="1.3"/>
<line x1="339.15" y1="89.37" x2="339.15" y2="97.04" stroke="#7f7f7f" stroke-width="1.1" />
<line x1="336.95" y1="89.37" x2="341.35" y2="89.37" stroke="#7f7f7f" stroke-width="1.1" />
<line x1="336.95" y1="97.04" x2="341.35" y2="97.04" stroke="#7f7f7f" stroke-width="1.1" />
<text x="339.00" y="87.80" font-family="'Liberation Sans', sans-serif" font-size="10" fill="#000" text-anchor="middle" font-weight="normal" >a</text>
<text x="339.15" y="162.60" font-family="'Liberation Sans', sans-serif" font-size="8.5" fill="#595959" text-anchor="middle" font-weight="normal" >A</text>
<rect x="350.46" y="101.07" width="10.50" height="46.23" fill="#b5b5b5" stroke="#000" stroke-width="1.3"/>
<line x1="355.71" y1="91.48" x2="355.71" y2="110.66" stroke="#7f7f7f" stroke-width="1.1" />
<line x1="353.51" y1="91.48" x2="357.91" y2="91.48" stroke="#7f7f7f" stroke-width="1.1" />
<line x1="353.51" y1="110.66" x2="357.91" y2="110.66" stroke="#7f7f7f" stroke-width="1.1" />
<text x="357.00" y="85.80" font-family="'Liberation Sans', sans-serif" font-size="10" fill="#000" text-anchor="middle" font-weight="normal" >bc</text>
<text x="355.71" y="162.60" font-family="'Liberation Sans', sans-serif" font-size="8.5" fill="#595959" text-anchor="middle" font-weight="normal" >B</text>
<rect x="367.03" y="106.44" width="10.50" height="40.86" fill="#000" stroke="#000" stroke-width="1.3"/>
<line x1="372.28" y1="100.68" x2="372.28" y2="112.19" stroke="#7f7f7f" stroke-width="1.1" />
<line x1="370.08" y1="100.68" x2="374.48" y2="100.68" stroke="#7f7f7f" stroke-width="1.1" />
<line x1="370.08" y1="112.19" x2="374.48" y2="112.19" stroke="#7f7f7f" stroke-width="1.1" />
<text x="372.80" y="97.50" font-family="'Liberation Sans', sans-serif" font-size="10" fill="#000" text-anchor="middle" font-weight="normal" >c</text>
<text x="372.28" y="162.60" font-family="'Liberation Sans', sans-serif" font-size="8.5" fill="#595959" text-anchor="middle" font-weight="normal" >C</text>
<rect x="400.15" y="59.25" width="10.50" height="88.05" fill="#fff" stroke="#000" stroke-width="1.3"/>
<line x1="405.40" y1="58.86" x2="405.40" y2="59.63" stroke="#7f7f7f" stroke-width="1.1" />
<line x1="403.20" y1="58.86" x2="407.60" y2="58.86" stroke="#7f7f7f" stroke-width="1.1" />
<line x1="403.20" y1="59.63" x2="407.60" y2="59.63" stroke="#7f7f7f" stroke-width="1.1" />
<text x="404.90" y="55.80" font-family="'Liberation Sans', sans-serif" font-size="10" fill="#000" text-anchor="middle" font-weight="normal" >a</text>
<text x="405.40" y="162.60" font-family="'Liberation Sans', sans-serif" font-size="8.5" fill="#595959" text-anchor="middle" font-weight="normal" textLength="9.5" lengthAdjust="spacingAndGlyphs" >CT</text>
<rect x="416.72" y="72.49" width="10.50" height="74.81" fill="url(#hatch)" stroke="#000" stroke-width="1.3"/>
<line x1="421.97" y1="64.81" x2="421.97" y2="80.16" stroke="#7f7f7f" stroke-width="1.1" />
<line x1="419.77" y1="64.81" x2="424.17" y2="64.81" stroke="#7f7f7f" stroke-width="1.1" />
<line x1="419.77" y1="80.16" x2="424.17" y2="80.16" stroke="#7f7f7f" stroke-width="1.1" />
<text x="423.20" y="62.70" font-family="'Liberation Sans', sans-serif" font-size="10" fill="#000" text-anchor="middle" font-weight="normal" >b</text>
<text x="421.97" y="162.60" font-family="'Liberation Sans', sans-serif" font-size="8.5" fill="#595959" text-anchor="middle" font-weight="normal" >A</text>
<rect x="433.28" y="81.69" width="10.50" height="65.61" fill="#b5b5b5" stroke="#000" stroke-width="1.3"/>
<line x1="438.53" y1="70.57" x2="438.53" y2="92.82" stroke="#7f7f7f" stroke-width="1.1" />
<line x1="436.33" y1="70.57" x2="440.73" y2="70.57" stroke="#7f7f7f" stroke-width="1.1" />
<line x1="436.33" y1="92.82" x2="440.73" y2="92.82" stroke="#7f7f7f" stroke-width="1.1" />
<text x="438.30" y="69.70" font-family="'Liberation Sans', sans-serif" font-size="10" fill="#000" text-anchor="middle" font-weight="normal" >c</text>
<text x="438.53" y="162.60" font-family="'Liberation Sans', sans-serif" font-size="8.5" fill="#595959" text-anchor="middle" font-weight="normal" >B</text>
<rect x="449.85" y="89.17" width="10.50" height="58.13" fill="#000" stroke="#000" stroke-width="1.3"/>
<line x1="455.10" y1="79.58" x2="455.10" y2="98.77" stroke="#7f7f7f" stroke-width="1.1" />
<line x1="452.90" y1="79.58" x2="457.30" y2="79.58" stroke="#7f7f7f" stroke-width="1.1" />
<line x1="452.90" y1="98.77" x2="457.30" y2="98.77" stroke="#7f7f7f" stroke-width="1.1" />
<text x="455.10" y="77.60" font-family="'Liberation Sans', sans-serif" font-size="10" fill="#000" text-anchor="middle" font-weight="normal" >d</text>
<text x="455.10" y="162.60" font-family="'Liberation Sans', sans-serif" font-size="8.5" fill="#595959" text-anchor="middle" font-weight="normal" >C</text>
<rect x="482.98" y="98.96" width="10.50" height="48.34" fill="#fff" stroke="#000" stroke-width="1.3"/>
<line x1="488.23" y1="98.38" x2="488.23" y2="99.53" stroke="#7f7f7f" stroke-width="1.1" />
<line x1="486.03" y1="98.38" x2="490.43" y2="98.38" stroke="#7f7f7f" stroke-width="1.1" />
<line x1="486.03" y1="99.53" x2="490.43" y2="99.53" stroke="#7f7f7f" stroke-width="1.1" />
<text x="488.50" y="94.50" font-family="'Liberation Sans', sans-serif" font-size="10" fill="#000" text-anchor="middle" font-weight="normal" >a</text>
<text x="488.23" y="162.60" font-family="'Liberation Sans', sans-serif" font-size="8.5" fill="#595959" text-anchor="middle" font-weight="normal" textLength="9.5" lengthAdjust="spacingAndGlyphs" >CT</text>
<rect x="499.54" y="102.79" width="10.50" height="44.51" fill="url(#hatch)" stroke="#000" stroke-width="1.3"/>
<line x1="504.79" y1="102.22" x2="504.79" y2="103.37" stroke="#7f7f7f" stroke-width="1.1" />
<line x1="502.59" y1="102.22" x2="506.99" y2="102.22" stroke="#7f7f7f" stroke-width="1.1" />
<line x1="502.59" y1="103.37" x2="506.99" y2="103.37" stroke="#7f7f7f" stroke-width="1.1" />
<text x="505.20" y="98.90" font-family="'Liberation Sans', sans-serif" font-size="10" fill="#000" text-anchor="middle" font-weight="normal" >a</text>
<text x="504.79" y="162.60" font-family="'Liberation Sans', sans-serif" font-size="8.5" fill="#595959" text-anchor="middle" font-weight="normal" >A</text>
<rect x="516.10" y="108.93" width="10.50" height="38.37" fill="#b5b5b5" stroke="#000" stroke-width="1.3"/>
<line x1="521.35" y1="107.97" x2="521.35" y2="109.89" stroke="#7f7f7f" stroke-width="1.1" />
<line x1="519.15" y1="107.97" x2="523.55" y2="107.97" stroke="#7f7f7f" stroke-width="1.1" />
<line x1="519.15" y1="109.89" x2="523.55" y2="109.89" stroke="#7f7f7f" stroke-width="1.1" />
<text x="520.30" y="104.00" font-family="'Liberation Sans', sans-serif" font-size="10" fill="#000" text-anchor="middle" font-weight="normal" >ab</text>
<text x="521.35" y="162.60" font-family="'Liberation Sans', sans-serif" font-size="8.5" fill="#595959" text-anchor="middle" font-weight="normal" >B</text>
<rect x="532.67" y="112.77" width="10.50" height="34.53" fill="#000" stroke="#000" stroke-width="1.3"/>
<line x1="537.92" y1="110.85" x2="537.92" y2="114.69" stroke="#7f7f7f" stroke-width="1.1" />
<line x1="535.72" y1="110.85" x2="540.12" y2="110.85" stroke="#7f7f7f" stroke-width="1.1" />
<line x1="535.72" y1="114.69" x2="540.12" y2="114.69" stroke="#7f7f7f" stroke-width="1.1" />
<text x="537.40" y="106.50" font-family="'Liberation Sans', sans-serif" font-size="10" fill="#000" text-anchor="middle" font-weight="normal" >b</text>
<text x="537.92" y="162.60" font-family="'Liberation Sans', sans-serif" font-size="8.5" fill="#595959" text-anchor="middle" font-weight="normal" >C</text>
<line x1="314.30" y1="31.50" x2="314.30" y2="150.30" stroke="#000" stroke-width="1.5" />
<line x1="311.30" y1="147.30" x2="546.90" y2="147.30" stroke="#000" stroke-width="1.5" />
<text x="320.50" y="45.20" font-family="'Liberation Serif', serif" font-size="11.6" fill="#000" text-anchor="start" font-weight="normal" textLength="39" lengthAdjust="spacingAndGlyphs" stroke="#000" stroke-width="0.25">Eggplant</text>
<text x="411.20" y="47.40" font-family="'Liberation Serif', serif" font-size="11.6" fill="#000" text-anchor="start" font-weight="normal" textLength="32.9" lengthAdjust="spacingAndGlyphs" stroke="#000" stroke-width="0.25">Tomato</text>
<text x="488.20" y="45.20" font-family="'Liberation Serif', serif" font-size="11.6" fill="#000" text-anchor="start" font-weight="normal" textLength="29.5" lengthAdjust="spacingAndGlyphs" stroke="#000" stroke-width="0.25">Pepper</text>
<text x="430.00" y="175.10" font-family="'Liberation Sans', sans-serif" font-size="10" fill="#595959" text-anchor="middle" font-weight="normal" >Plant Water Consumption</text>
<text x="0.00" y="0.00" font-family="'Liberation Sans', sans-serif" font-size="9.4" fill="#595959" text-anchor="middle" font-weight="normal" textLength="48" lengthAdjust="spacingAndGlyphs" transform="translate(293.8,89.7) rotate(-90)">Volume (L)</text>
<line x1="320.00" y1="185.90" x2="544.60" y2="185.90" stroke="#000" stroke-width="1.4" />
<line x1="544.60" y1="185.90" x2="544.60" y2="308.60" stroke="#000" stroke-width="1.4" />
<line x1="317.00" y1="308.60" x2="320.00" y2="308.60" stroke="#000" stroke-width="1.2" />
<text x="310.50" y="311.60" font-family="'Liberation Sans', sans-serif" font-size="8.5" fill="#000" text-anchor="end" font-weight="normal" >0</text>
<line x1="317.00" y1="284.06" x2="320.00" y2="284.06" stroke="#000" stroke-width="1.2" />
<text x="310.50" y="287.06" font-family="'Liberation Sans', sans-serif" font-size="8.5" fill="#000" text-anchor="end" font-weight="normal" >1</text>
<line x1="317.00" y1="259.52" x2="320.00" y2="259.52" stroke="#000" stroke-width="1.2" />
<text x="310.50" y="262.52" font-family="'Liberation Sans', sans-serif" font-size="8.5" fill="#000" text-anchor="end" font-weight="normal" >2</text>
<line x1="317.00" y1="234.98" x2="320.00" y2="234.98" stroke="#000" stroke-width="1.2" />
<text x="310.50" y="237.98" font-family="'Liberation Sans', sans-serif" font-size="8.5" fill="#000" text-anchor="end" font-weight="normal" >3</text>
<line x1="317.00" y1="210.44" x2="320.00" y2="210.44" stroke="#000" stroke-width="1.2" />
<text x="310.50" y="213.44" font-family="'Liberation Sans', sans-serif" font-size="8.5" fill="#000" text-anchor="end" font-weight="normal" >4</text>
<line x1="317.00" y1="185.90" x2="320.00" y2="185.90" stroke="#000" stroke-width="1.2" />
<text x="310.50" y="188.90" font-family="'Liberation Sans', sans-serif" font-size="8.5" fill="#000" text-anchor="end" font-weight="normal" >5</text>
<line x1="320.00" y1="308.60" x2="320.00" y2="311.60" stroke="#000" stroke-width="1.2" />
<line x1="336.04" y1="308.60" x2="336.04" y2="311.60" stroke="#000" stroke-width="1.2" />
<line x1="352.09" y1="308.60" x2="352.09" y2="311.60" stroke="#000" stroke-width="1.2" />
<line x1="368.13" y1="308.60" x2="368.13" y2="311.60" stroke="#000" stroke-width="1.2" />
<line x1="384.17" y1="308.60" x2="384.17" y2="311.60" stroke="#000" stroke-width="1.2" />
<line x1="400.21" y1="308.60" x2="400.21" y2="311.60" stroke="#000" stroke-width="1.2" />
<line x1="416.26" y1="308.60" x2="416.26" y2="311.60" stroke="#000" stroke-width="1.2" />
<line x1="432.30" y1="308.60" x2="432.30" y2="311.60" stroke="#000" stroke-width="1.2" />
<line x1="448.34" y1="308.60" x2="448.34" y2="311.60" stroke="#000" stroke-width="1.2" />
<line x1="464.39" y1="308.60" x2="464.39" y2="311.60" stroke="#000" stroke-width="1.2" />
<line x1="480.43" y1="308.60" x2="480.43" y2="311.60" stroke="#000" stroke-width="1.2" />
<line x1="496.47" y1="308.60" x2="496.47" y2="311.60" stroke="#000" stroke-width="1.2" />
<line x1="512.51" y1="308.60" x2="512.51" y2="311.60" stroke="#000" stroke-width="1.2" />
<line x1="528.56" y1="308.60" x2="528.56" y2="311.60" stroke="#000" stroke-width="1.2" />
<line x1="544.60" y1="308.60" x2="544.60" y2="311.60" stroke="#000" stroke-width="1.2" />
<rect x="322.77" y="258.05" width="10.50" height="50.55" fill="#fff" stroke="#000" stroke-width="1.3"/>
<line x1="328.02" y1="255.59" x2="328.02" y2="260.50" stroke="#7f7f7f" stroke-width="1.1" />
<line x1="325.82" y1="255.59" x2="330.22" y2="255.59" stroke="#7f7f7f" stroke-width="1.1" />
<line x1="325.82" y1="260.50" x2="330.22" y2="260.50" stroke="#7f7f7f" stroke-width="1.1" />
<text x="326.00" y="250.00" font-family="'Liberation Sans', sans-serif" font-size="10" fill="#000" text-anchor="middle" font-weight="normal" >b</text>
<text x="328.02" y="324.50" font-family="'Liberation Sans', sans-serif" font-size="8.5" fill="#595959" text-anchor="middle" font-weight="normal" textLength="9.5" lengthAdjust="spacingAndGlyphs" >CT</text>
<rect x="338.81" y="254.61" width="10.50" height="53.99" fill="url(#hatch)" stroke="#000" stroke-width="1.3"/>
<line x1="344.06" y1="249.70" x2="344.06" y2="259.52" stroke="#7f7f7f" stroke-width="1.1" />
<line x1="341.86" y1="249.70" x2="346.26" y2="249.70" stroke="#7f7f7f" stroke-width="1.1" />
<line x1="341.86" y1="259.52" x2="346.26" y2="259.52" stroke="#7f7f7f" stroke-width="1.1" />
<text x="343.20" y="244.90" font-family="'Liberation Sans', sans-serif" font-size="10" fill="#000" text-anchor="middle" font-weight="normal" >a</text>
<text x="344.06" y="324.50" font-family="'Liberation Sans', sans-serif" font-size="8.5" fill="#595959" text-anchor="middle" font-weight="normal" >A</text>
<rect x="354.86" y="253.39" width="10.50" height="55.22" fill="#b5b5b5" stroke="#000" stroke-width="1.3"/>
<line x1="360.11" y1="241.61" x2="360.11" y2="265.16" stroke="#7f7f7f" stroke-width="1.1" />
<line x1="357.91" y1="241.61" x2="362.31" y2="241.61" stroke="#7f7f7f" stroke-width="1.1" />
<line x1="357.91" y1="265.16" x2="362.31" y2="265.16" stroke="#7f7f7f" stroke-width="1.1" />
<text x="357.80" y="236.40" font-family="'Liberation Sans', sans-serif" font-size="10" fill="#000" text-anchor="middle" font-weight="normal" >b</text>
<text x="360.11" y="324.50" font-family="'Liberation Sans', sans-serif" font-size="8.5" fill="#595959" text-anchor="middle" font-weight="normal" >B</text>
<rect x="370.90" y="252.16" width="10.50" height="56.44" fill="#000" stroke="#000" stroke-width="1.3"/>
<line x1="376.15" y1="244.80" x2="376.15" y2="259.52" stroke="#7f7f7f" stroke-width="1.1" />
<line x1="373.95" y1="244.80" x2="378.35" y2="244.80" stroke="#7f7f7f" stroke-width="1.1" />
<line x1="373.95" y1="259.52" x2="378.35" y2="259.52" stroke="#7f7f7f" stroke-width="1.1" />
<text x="374.40" y="239.20" font-family="'Liberation Sans', sans-serif" font-size="10" fill="#000" text-anchor="middle" font-weight="normal" >c</text>
<text x="376.15" y="324.50" font-family="'Liberation Sans', sans-serif" font-size="8.5" fill="#595959" text-anchor="middle" font-weight="normal" >C</text>
<rect x="402.99" y="262.71" width="10.50" height="45.89" fill="#fff" stroke="#000" stroke-width="1.3"/>
<line x1="408.24" y1="262.22" x2="408.24" y2="263.20" stroke="#7f7f7f" stroke-width="1.1" />
<line x1="406.04" y1="262.22" x2="410.44" y2="262.22" stroke="#7f7f7f" stroke-width="1.1" />
<line x1="406.04" y1="263.20" x2="410.44" y2="263.20" stroke="#7f7f7f" stroke-width="1.1" />
<text x="406.80" y="257.60" font-family="'Liberation Sans', sans-serif" font-size="10" fill="#000" text-anchor="middle" font-weight="normal" >a</text>
<text x="408.24" y="324.50" font-family="'Liberation Sans', sans-serif" font-size="8.5" fill="#595959" text-anchor="middle" font-weight="normal" textLength="9.5" lengthAdjust="spacingAndGlyphs" >CT</text>
<rect x="419.03" y="252.89" width="10.50" height="55.71" fill="url(#hatch)" stroke="#000" stroke-width="1.3"/>
<line x1="424.28" y1="243.08" x2="424.28" y2="262.71" stroke="#7f7f7f" stroke-width="1.1" />
<line x1="422.08" y1="243.08" x2="426.48" y2="243.08" stroke="#7f7f7f" stroke-width="1.1" />
<line x1="422.08" y1="262.71" x2="426.48" y2="262.71" stroke="#7f7f7f" stroke-width="1.1" />
<text x="421.60" y="237.40" font-family="'Liberation Sans', sans-serif" font-size="10" fill="#000" text-anchor="middle" font-weight="normal" >b</text>
<text x="424.28" y="324.50" font-family="'Liberation Sans', sans-serif" font-size="8.5" fill="#595959" text-anchor="middle" font-weight="normal" >A</text>
<rect x="435.07" y="241.61" width="10.50" height="66.99" fill="#b5b5b5" stroke="#000" stroke-width="1.3"/>
<line x1="440.32" y1="227.37" x2="440.32" y2="255.84" stroke="#7f7f7f" stroke-width="1.1" />
<line x1="438.12" y1="227.37" x2="442.52" y2="227.37" stroke="#7f7f7f" stroke-width="1.1" />
<line x1="438.12" y1="255.84" x2="442.52" y2="255.84" stroke="#7f7f7f" stroke-width="1.1" />
<text x="438.50" y="221.70" font-family="'Liberation Sans', sans-serif" font-size="10" fill="#000" text-anchor="middle" font-weight="normal" >c</text>
<text x="440.32" y="324.50" font-family="'Liberation Sans', sans-serif" font-size="8.5" fill="#595959" text-anchor="middle" font-weight="normal" >B</text>
<rect x="451.11" y="237.43" width="10.50" height="71.17" fill="#000" stroke="#000" stroke-width="1.3"/>
<line x1="456.36" y1="225.16" x2="456.36" y2="249.70" stroke="#7f7f7f" stroke-width="1.1" />
<line x1="454.16" y1="225.16" x2="458.56" y2="225.16" stroke="#7f7f7f" stroke-width="1.1" />
<line x1="454.16" y1="249.70" x2="458.56" y2="249.70" stroke="#7f7f7f" stroke-width="1.1" />
<text x="451.90" y="217.60" font-family="'Liberation Sans', sans-serif" font-size="10" fill="#000" text-anchor="middle" font-weight="normal" >d</text>
<text x="456.36" y="324.50" font-family="'Liberation Sans', sans-serif" font-size="8.5" fill="#595959" text-anchor="middle" font-weight="normal" >C</text>
<rect x="483.20" y="224.43" width="10.50" height="84.17" fill="#fff" stroke="#000" stroke-width="1.3"/>
<line x1="488.45" y1="223.69" x2="488.45" y2="225.16" stroke="#7f7f7f" stroke-width="1.1" />
<line x1="486.25" y1="223.69" x2="490.65" y2="223.69" stroke="#7f7f7f" stroke-width="1.1" />
<line x1="486.25" y1="225.16" x2="490.65" y2="225.16" stroke="#7f7f7f" stroke-width="1.1" />
<text x="485.80" y="219.10" font-family="'Liberation Sans', sans-serif" font-size="10" fill="#000" text-anchor="middle" font-weight="normal" >a</text>
<text x="488.45" y="324.50" font-family="'Liberation Sans', sans-serif" font-size="8.5" fill="#595959" text-anchor="middle" font-weight="normal" textLength="9.5" lengthAdjust="spacingAndGlyphs" >CT</text>
<rect x="499.24" y="219.77" width="10.50" height="88.83" fill="url(#hatch)" stroke="#000" stroke-width="1.3"/>
<line x1="504.49" y1="219.03" x2="504.49" y2="220.50" stroke="#7f7f7f" stroke-width="1.1" />
<line x1="502.29" y1="219.03" x2="506.69" y2="219.03" stroke="#7f7f7f" stroke-width="1.1" />
<line x1="502.29" y1="220.50" x2="506.69" y2="220.50" stroke="#7f7f7f" stroke-width="1.1" />
<text x="502.20" y="215.30" font-family="'Liberation Sans', sans-serif" font-size="10" fill="#000" text-anchor="middle" font-weight="normal" >a</text>
<text x="504.49" y="324.50" font-family="'Liberation Sans', sans-serif" font-size="8.5" fill="#595959" text-anchor="middle" font-weight="normal" >A</text>
<rect x="515.29" y="213.63" width="10.50" height="94.97" fill="#bdbdbd" stroke="#bdbdbd" stroke-width="1.3"/>
<line x1="520.54" y1="211.67" x2="520.54" y2="215.59" stroke="#7f7f7f" stroke-width="1.1" />
<line x1="518.34" y1="211.67" x2="522.74" y2="211.67" stroke="#7f7f7f" stroke-width="1.1" />
<line x1="518.34" y1="215.59" x2="522.74" y2="215.59" stroke="#7f7f7f" stroke-width="1.1" />
<text x="519.30" y="208.90" font-family="'Liberation Sans', sans-serif" font-size="10" fill="#000" text-anchor="middle" font-weight="normal" >b</text>
<text x="520.54" y="324.50" font-family="'Liberation Sans', sans-serif" font-size="8.5" fill="#595959" text-anchor="middle" font-weight="normal" >B</text>
<rect x="531.33" y="219.27" width="10.50" height="89.33" fill="#000" stroke="#000" stroke-width="1.3"/>
<line x1="536.58" y1="216.82" x2="536.58" y2="221.73" stroke="#7f7f7f" stroke-width="1.1" />
<line x1="534.38" y1="216.82" x2="538.78" y2="216.82" stroke="#7f7f7f" stroke-width="1.1" />
<line x1="534.38" y1="221.73" x2="538.78" y2="221.73" stroke="#7f7f7f" stroke-width="1.1" />
<text x="534.80" y="212.30" font-family="'Liberation Sans', sans-serif" font-size="10" fill="#000" text-anchor="middle" font-weight="normal" >b</text>
<text x="536.58" y="324.50" font-family="'Liberation Sans', sans-serif" font-size="8.5" fill="#595959" text-anchor="middle" font-weight="normal" >C</text>
<line x1="320.00" y1="185.20" x2="320.00" y2="311.60" stroke="#000" stroke-width="1.5" />
<line x1="317.00" y1="308.60" x2="545.30" y2="308.60" stroke="#000" stroke-width="1.5" />
<text x="323.10" y="200.80" font-family="'Liberation Serif', serif" font-size="11.6" fill="#000" text-anchor="start" font-weight="normal" textLength="39" lengthAdjust="spacingAndGlyphs" stroke="#000" stroke-width="0.25">Eggplant</text>
<text x="407.50" y="200.60" font-family="'Liberation Serif', serif" font-size="11.6" fill="#000" text-anchor="start" font-weight="normal" textLength="32.2" lengthAdjust="spacingAndGlyphs" stroke="#000" stroke-width="0.25">Tomato</text>
<text x="475.50" y="196.50" font-family="'Liberation Serif', serif" font-size="11.6" fill="#000" text-anchor="start" font-weight="normal" textLength="29" lengthAdjust="spacingAndGlyphs" stroke="#000" stroke-width="0.25">Pepper</text>
<text x="431.40" y="335.50" font-family="'Liberation Sans', sans-serif" font-size="10" fill="#595959" text-anchor="middle" font-weight="normal" >Water Potential</text>
<text x="0.00" y="0.00" font-family="'Liberation Sans', sans-serif" font-size="9.4" fill="#595959" text-anchor="middle" font-weight="normal" textLength="46" lengthAdjust="spacingAndGlyphs" transform="translate(296.5,243.8) rotate(-90)">Volume (L)</text>
<line x1="322.50" y1="350.20" x2="545.40" y2="350.20" stroke="#000" stroke-width="1.4" />
<line x1="545.40" y1="350.20" x2="545.40" y2="465.70" stroke="#000" stroke-width="1.4" />
<line x1="319.50" y1="465.70" x2="322.50" y2="465.70" stroke="#000" stroke-width="1.2" />
<text x="313.20" y="468.70" font-family="'Liberation Sans', sans-serif" font-size="8.5" fill="#000" text-anchor="end" font-weight="normal" >0</text>
<line x1="319.50" y1="436.82" x2="322.50" y2="436.82" stroke="#000" stroke-width="1.2" />
<text x="313.20" y="439.82" font-family="'Liberation Sans', sans-serif" font-size="8.5" fill="#000" text-anchor="end" font-weight="normal" >10</text>
<line x1="319.50" y1="407.95" x2="322.50" y2="407.95" stroke="#000" stroke-width="1.2" />
<text x="313.20" y="410.95" font-family="'Liberation Sans', sans-serif" font-size="8.5" fill="#000" text-anchor="end" font-weight="normal" >20</text>
<line x1="319.50" y1="379.07" x2="322.50" y2="379.07" stroke="#000" stroke-width="1.2" />
<text x="313.20" y="382.07" font-family="'Liberation Sans', sans-serif" font-size="8.5" fill="#000" text-anchor="end" font-weight="normal" >30</text>
<line x1="319.50" y1="350.20" x2="322.50" y2="350.20" stroke="#000" stroke-width="1.2" />
<text x="313.20" y="353.20" font-family="'Liberation Sans', sans-serif" font-size="8.5" fill="#000" text-anchor="end" font-weight="normal" >40</text>
<line x1="322.50" y1="465.70" x2="322.50" y2="468.70" stroke="#000" stroke-width="1.2" />
<line x1="338.42" y1="465.70" x2="338.42" y2="468.70" stroke="#000" stroke-width="1.2" />
<line x1="354.34" y1="465.70" x2="354.34" y2="468.70" stroke="#000" stroke-width="1.2" />
<line x1="370.26" y1="465.70" x2="370.26" y2="468.70" stroke="#000" stroke-width="1.2" />
<line x1="386.19" y1="465.70" x2="386.19" y2="468.70" stroke="#000" stroke-width="1.2" />
<line x1="402.11" y1="465.70" x2="402.11" y2="468.70" stroke="#000" stroke-width="1.2" />
<line x1="418.03" y1="465.70" x2="418.03" y2="468.70" stroke="#000" stroke-width="1.2" />
<line x1="433.95" y1="465.70" x2="433.95" y2="468.70" stroke="#000" stroke-width="1.2" />
<line x1="449.87" y1="465.70" x2="449.87" y2="468.70" stroke="#000" stroke-width="1.2" />
<line x1="465.79" y1="465.70" x2="465.79" y2="468.70" stroke="#000" stroke-width="1.2" />
<line x1="481.71" y1="465.70" x2="481.71" y2="468.70" stroke="#000" stroke-width="1.2" />
<line x1="497.64" y1="465.70" x2="497.64" y2="468.70" stroke="#000" stroke-width="1.2" />
<line x1="513.56" y1="465.70" x2="513.56" y2="468.70" stroke="#000" stroke-width="1.2" />
<line x1="529.48" y1="465.70" x2="529.48" y2="468.70" stroke="#000" stroke-width="1.2" />
<line x1="545.40" y1="465.70" x2="545.40" y2="468.70" stroke="#000" stroke-width="1.2" />
<rect x="325.21" y="384.85" width="10.50" height="80.85" fill="#fff" stroke="#000" stroke-width="1.3"/>
<line x1="330.46" y1="384.27" x2="330.46" y2="385.43" stroke="#7f7f7f" stroke-width="1.1" />
<line x1="328.26" y1="384.27" x2="332.66" y2="384.27" stroke="#7f7f7f" stroke-width="1.1" />
<line x1="328.26" y1="385.43" x2="332.66" y2="385.43" stroke="#7f7f7f" stroke-width="1.1" />
<text x="329.50" y="381.40" font-family="'Liberation Sans', sans-serif" font-size="10" fill="#000" text-anchor="middle" font-weight="normal" >a</text>
<text x="330.46" y="480.90" font-family="'Liberation Sans', sans-serif" font-size="8.5" fill="#595959" text-anchor="middle" font-weight="normal" textLength="9.5" lengthAdjust="spacingAndGlyphs" >CT</text>
<rect x="341.13" y="379.07" width="10.50" height="86.62" fill="url(#hatch)" stroke="#000" stroke-width="1.3"/>
<line x1="346.38" y1="378.50" x2="346.38" y2="379.65" stroke="#7f7f7f" stroke-width="1.1" />
<line x1="344.18" y1="378.50" x2="348.58" y2="378.50" stroke="#7f7f7f" stroke-width="1.1" />
<line x1="344.18" y1="379.65" x2="348.58" y2="379.65" stroke="#7f7f7f" stroke-width="1.1" />
<text x="346.90" y="374.90" font-family="'Liberation Sans', sans-serif" font-size="10" fill="#000" text-anchor="middle" font-weight="normal" >bc</text>
<text x="346.38" y="480.90" font-family="'Liberation Sans', sans-serif" font-size="8.5" fill="#595959" text-anchor="middle" font-weight="normal" >A</text>
<rect x="357.05" y="375.90" width="10.50" height="89.80" fill="#b5b5b5" stroke="#000" stroke-width="1.3"/>
<line x1="362.30" y1="374.45" x2="362.30" y2="377.34" stroke="#7f7f7f" stroke-width="1.1" />
<line x1="360.10" y1="374.45" x2="364.50" y2="374.45" stroke="#7f7f7f" stroke-width="1.1" />
<line x1="360.10" y1="377.34" x2="364.50" y2="377.34" stroke="#7f7f7f" stroke-width="1.1" />
<text x="361.90" y="372.40" font-family="'Liberation Sans', sans-serif" font-size="10" fill="#000" text-anchor="middle" font-weight="normal" >c</text>
<text x="362.30" y="480.90" font-family="'Liberation Sans', sans-serif" font-size="8.5" fill="#595959" text-anchor="middle" font-weight="normal" >B</text>
<rect x="372.98" y="370.12" width="10.50" height="95.58" fill="#000" stroke="#000" stroke-width="1.3"/>
<line x1="378.23" y1="368.97" x2="378.23" y2="371.28" stroke="#7f7f7f" stroke-width="1.1" />
<line x1="376.03" y1="368.97" x2="380.43" y2="368.97" stroke="#7f7f7f" stroke-width="1.1" />
<line x1="376.03" y1="371.28" x2="380.43" y2="371.28" stroke="#7f7f7f" stroke-width="1.1" />
<text x="377.70" y="368.20" font-family="'Liberation Sans', sans-serif" font-size="10" fill="#000" text-anchor="middle" font-weight="normal" >a</text>
<text x="378.23" y="480.90" font-family="'Liberation Sans', sans-serif" font-size="8.5" fill="#595959" text-anchor="middle" font-weight="normal" >C</text>
<rect x="404.82" y="424.99" width="10.50" height="40.71" fill="#fff" stroke="#000" stroke-width="1.3"/>
<line x1="410.07" y1="424.41" x2="410.07" y2="425.56" stroke="#7f7f7f" stroke-width="1.1" />
<line x1="407.87" y1="424.41" x2="412.27" y2="424.41" stroke="#7f7f7f" stroke-width="1.1" />
<line x1="407.87" y1="425.56" x2="412.27" y2="425.56" stroke="#7f7f7f" stroke-width="1.1" />
<text x="410.00" y="421.40" font-family="'Liberation Sans', sans-serif" font-size="10" fill="#000" text-anchor="middle" font-weight="normal" >a</text>
<text x="410.07" y="480.90" font-family="'Liberation Sans', sans-serif" font-size="8.5" fill="#595959" text-anchor="middle" font-weight="normal" textLength="9.5" lengthAdjust="spacingAndGlyphs" >CT</text>
<rect x="420.74" y="413.72" width="10.50" height="51.98" fill="url(#hatch)" stroke="#000" stroke-width="1.3"/>
<line x1="425.99" y1="412.86" x2="425.99" y2="414.59" stroke="#7f7f7f" stroke-width="1.1" />
<line x1="423.79" y1="412.86" x2="428.19" y2="412.86" stroke="#7f7f7f" stroke-width="1.1" />
<line x1="423.79" y1="414.59" x2="428.19" y2="414.59" stroke="#7f7f7f" stroke-width="1.1" />
<text x="425.60" y="408.20" font-family="'Liberation Sans', sans-serif" font-size="10" fill="#000" text-anchor="middle" font-weight="normal" >b</text>
<text x="425.99" y="480.90" font-family="'Liberation Sans', sans-serif" font-size="8.5" fill="#595959" text-anchor="middle" font-weight="normal" >A</text>
<rect x="436.66" y="399.29" width="10.50" height="66.41" fill="#b5b5b5" stroke="#000" stroke-width="1.3"/>
<line x1="441.91" y1="397.84" x2="441.91" y2="400.73" stroke="#7f7f7f" stroke-width="1.1" />
<line x1="439.71" y1="397.84" x2="444.11" y2="397.84" stroke="#7f7f7f" stroke-width="1.1" />
<line x1="439.71" y1="400.73" x2="444.11" y2="400.73" stroke="#7f7f7f" stroke-width="1.1" />
<text x="440.90" y="396.70" font-family="'Liberation Sans', sans-serif" font-size="10" fill="#000" text-anchor="middle" font-weight="normal" >c</text>
<text x="441.91" y="480.90" font-family="'Liberation Sans', sans-serif" font-size="8.5" fill="#595959" text-anchor="middle" font-weight="normal" >B</text>
<rect x="452.58" y="395.53" width="10.50" height="70.17" fill="#000" stroke="#000" stroke-width="1.3"/>
<line x1="457.83" y1="394.09" x2="457.83" y2="396.98" stroke="#7f7f7f" stroke-width="1.1" />
<line x1="455.63" y1="394.09" x2="460.03" y2="394.09" stroke="#7f7f7f" stroke-width="1.1" />
<line x1="455.63" y1="396.98" x2="460.03" y2="396.98" stroke="#7f7f7f" stroke-width="1.1" />
<text x="457.10" y="392.60" font-family="'Liberation Sans', sans-serif" font-size="10" fill="#000" text-anchor="middle" font-weight="normal" >d</text>
<text x="457.83" y="480.90" font-family="'Liberation Sans', sans-serif" font-size="8.5" fill="#595959" text-anchor="middle" font-weight="normal" >C</text>
<rect x="484.42" y="399.29" width="10.50" height="66.41" fill="#fff" stroke="#000" stroke-width="1.3"/>
<line x1="489.67" y1="398.71" x2="489.67" y2="399.87" stroke="#7f7f7f" stroke-width="1.1" />
<line x1="487.47" y1="398.71" x2="491.87" y2="398.71" stroke="#7f7f7f" stroke-width="1.1" />
<line x1="487.47" y1="399.87" x2="491.87" y2="399.87" stroke="#7f7f7f" stroke-width="1.1" />
<text x="490.00" y="396.00" font-family="'Liberation Sans', sans-serif" font-size="10" fill="#000" text-anchor="middle" font-weight="normal" >a</text>
<text x="489.67" y="480.90" font-family="'Liberation Sans', sans-serif" font-size="8.5" fill="#595959" text-anchor="middle" font-weight="normal" textLength="9.5" lengthAdjust="spacingAndGlyphs" >CT</text>
<rect x="500.35" y="393.22" width="10.50" height="72.48" fill="url(#hatch)" stroke="#000" stroke-width="1.3"/>
<line x1="505.60" y1="392.65" x2="505.60" y2="393.80" stroke="#7f7f7f" stroke-width="1.1" />
<line x1="503.40" y1="392.65" x2="507.80" y2="392.65" stroke="#7f7f7f" stroke-width="1.1" />
<line x1="503.40" y1="393.80" x2="507.80" y2="393.80" stroke="#7f7f7f" stroke-width="1.1" />
<text x="504.50" y="388.90" font-family="'Liberation Sans', sans-serif" font-size="10" fill="#000" text-anchor="middle" font-weight="normal" >a</text>
<text x="505.60" y="480.90" font-family="'Liberation Sans', sans-serif" font-size="8.5" fill="#595959" text-anchor="middle" font-weight="normal" >A</text>
<rect x="516.27" y="372.72" width="10.50" height="92.98" fill="#b5b5b5" stroke="#000" stroke-width="1.3"/>
<line x1="521.52" y1="372.14" x2="521.52" y2="373.30" stroke="#7f7f7f" stroke-width="1.1" />
<line x1="519.32" y1="372.14" x2="523.72" y2="372.14" stroke="#7f7f7f" stroke-width="1.1" />
<line x1="519.32" y1="373.30" x2="523.72" y2="373.30" stroke="#7f7f7f" stroke-width="1.1" />
<text x="521.70" y="369.30" font-family="'Liberation Sans', sans-serif" font-size="10" fill="#000" text-anchor="middle" font-weight="normal" >b</text>
<text x="521.52" y="480.90" font-family="'Liberation Sans', sans-serif" font-size="8.5" fill="#595959" text-anchor="middle" font-weight="normal" >B</text>
<rect x="532.19" y="390.34" width="10.50" height="75.36" fill="#000" stroke="#000" stroke-width="1.3"/>
<line x1="537.44" y1="389.47" x2="537.44" y2="391.20" stroke="#7f7f7f" stroke-width="1.1" />
<line x1="535.24" y1="389.47" x2="539.64" y2="389.47" stroke="#7f7f7f" stroke-width="1.1" />
<line x1="535.24" y1="391.20" x2="539.64" y2="391.20" stroke="#7f7f7f" stroke-width="1.1" />
<text x="536.40" y="383.10" font-family="'Liberation Sans', sans-serif" font-size="10" fill="#000" text-anchor="middle" font-weight="normal" >b</text>
<text x="537.44" y="480.90" font-family="'Liberation Sans', sans-serif" font-size="8.5" fill="#595959" text-anchor="middle" font-weight="normal" >C</text>
<line x1="322.50" y1="349.50" x2="322.50" y2="468.70" stroke="#000" stroke-width="1.5" />
<line x1="319.50" y1="465.70" x2="546.10" y2="465.70" stroke="#000" stroke-width="1.5" />
<text x="328.20" y="361.40" font-family="'Liberation Serif', serif" font-size="11.6" fill="#000" text-anchor="start" font-weight="normal" textLength="38.4" lengthAdjust="spacingAndGlyphs" stroke="#000" stroke-width="0.25">Eggplant</text>
<text x="414.90" y="362.40" font-family="'Liberation Serif', serif" font-size="11.6" fill="#000" text-anchor="start" font-weight="normal" textLength="32.9" lengthAdjust="spacingAndGlyphs" stroke="#000" stroke-width="0.25">Tomato</text>
<text x="496.00" y="358.50" font-family="'Liberation Serif', serif" font-size="11.6" fill="#000" text-anchor="start" font-weight="normal" textLength="29.7" lengthAdjust="spacingAndGlyphs" stroke="#000" stroke-width="0.25">Pepper</text>
<text x="433.90" y="490.70" font-family="'Liberation Sans', sans-serif" font-size="10" fill="#595959" text-anchor="middle" font-weight="normal" >Water Use Efficiency</text>
<text x="0.00" y="0.00" font-family="'Liberation Sans', sans-serif" font-size="9.4" fill="#595959" text-anchor="middle" font-weight="normal" textLength="62.5" lengthAdjust="spacingAndGlyphs" transform="translate(295.5,412.4) rotate(-90)">Biomass (gL<tspan dy="-3" font-size="6.5">-1</tspan><tspan dy="3">)</tspan></text>
</svg></body></html>
